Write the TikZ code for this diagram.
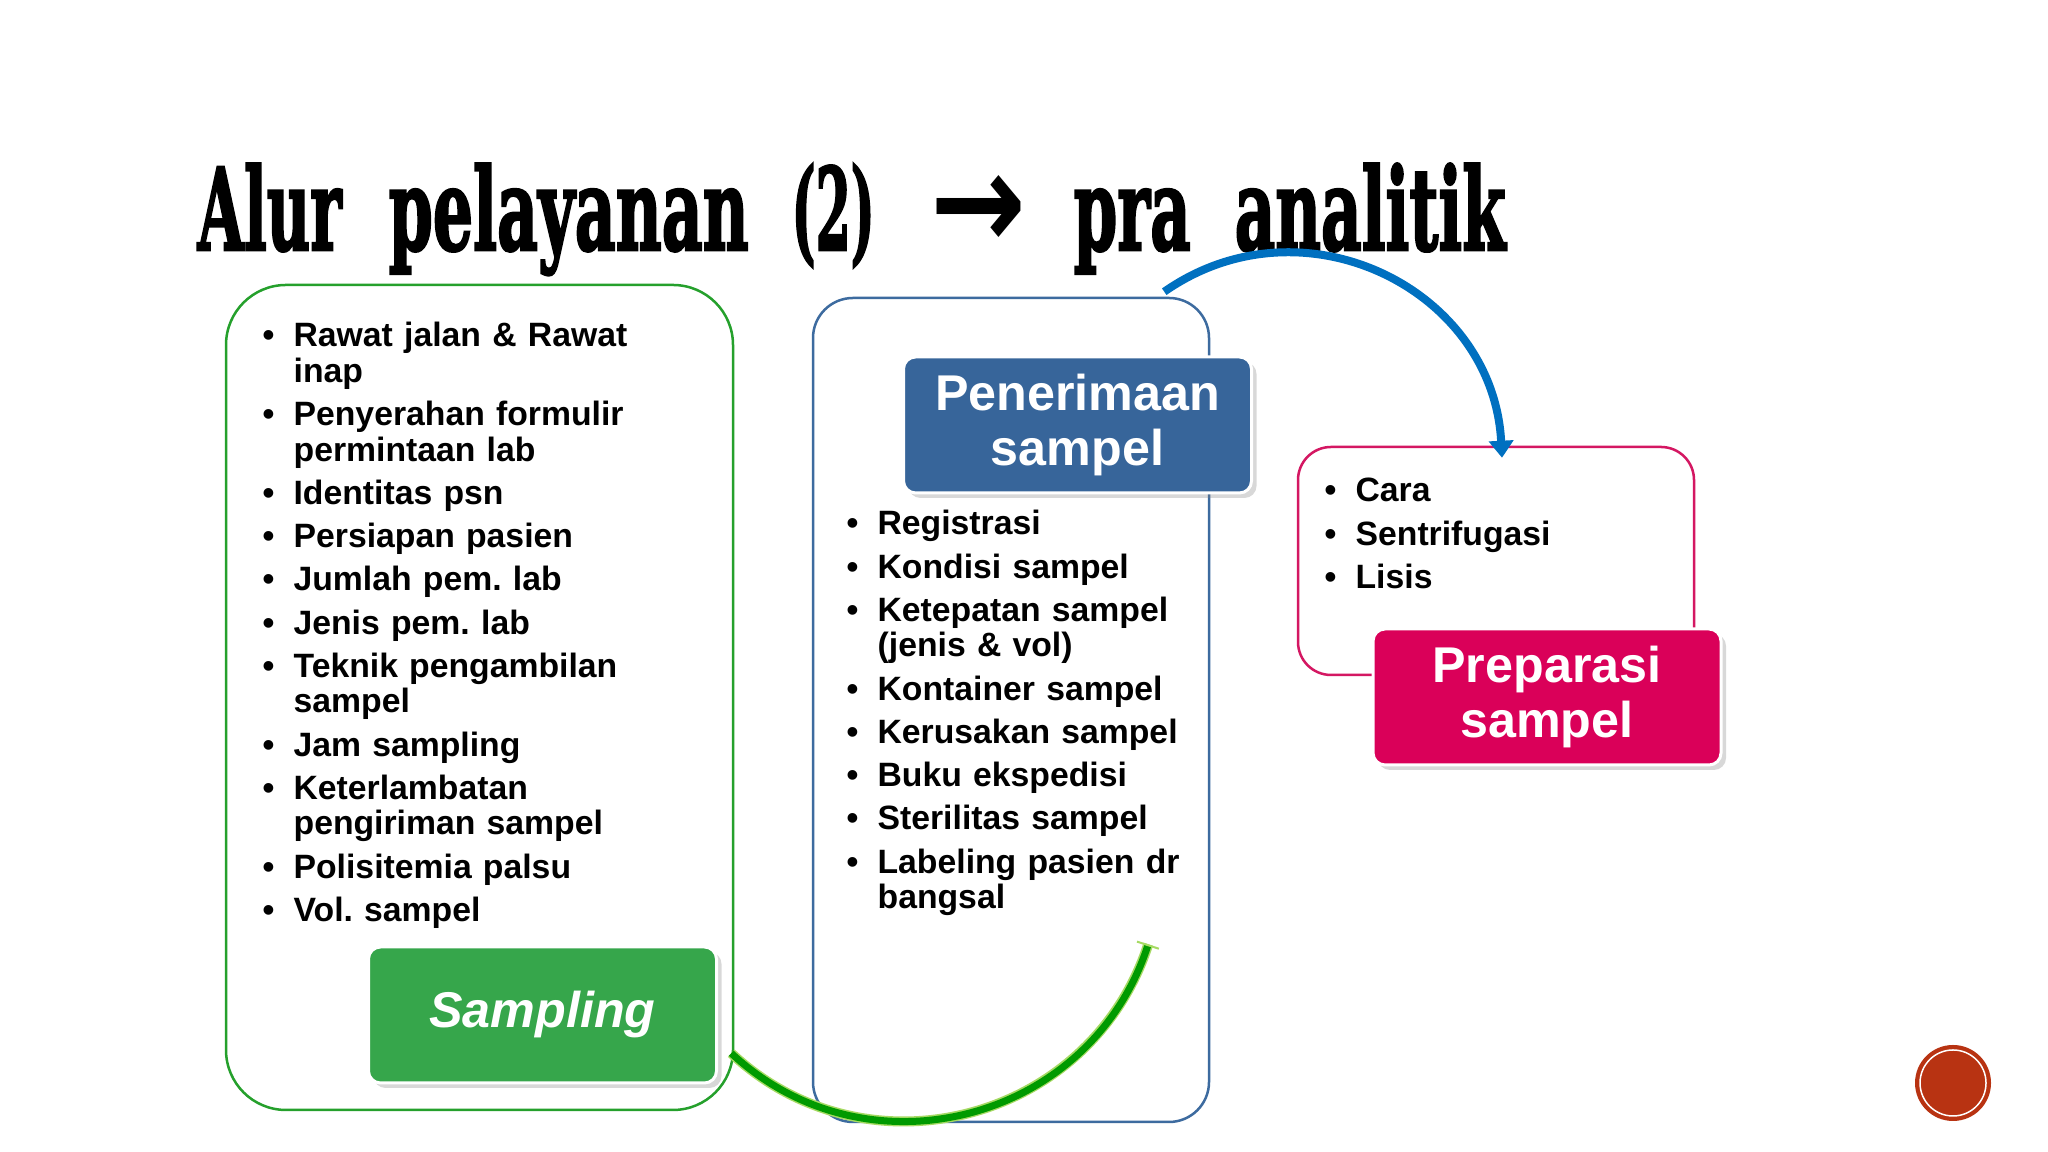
\documentclass[tikz,border=0pt]{standalone}
\usepackage{graphicx}
\usepackage{fontspec}
\setmainfont{Liberation Sans}
\newfontfamily\titlefont{DejaVu Serif}[BoldFeatures={FakeBold=2.5}]
\newfontfamily\arrowfont{DejaVu Sans}
\usepackage{tikz}
\usetikzlibrary{positioning, arrows.meta, shadows, calc}
\frenchspacing

\definecolor{framegreen}{HTML}{25A02C}
\definecolor{sampgreen}{HTML}{36A64B}
\definecolor{frameblue}{HTML}{3D6B9F}
\definecolor{penblue}{HTML}{37659A}
\definecolor{framepink}{HTML}{D41762}
\definecolor{prepink}{HTML}{DA0059}
\definecolor{arrowblue}{HTML}{0070C0}
\definecolor{arcgreen}{HTML}{009A00}
\definecolor{arclight}{HTML}{A6DA63}
\definecolor{dotred}{HTML}{B83312}

\newcommand{\ListFont}{\fontsize{9.6}{10.1}\selectfont\bfseries\frenchspacing}
\newcommand{\itm}[1]{\parskip=2.2pt\relax\noindent\hangindent=8.8pt\hangafter=1\makebox[8.8pt][l]{\textbullet}#1\par}

\begin{document}
\begin{tikzpicture}[x=0.1mm, y=0.1mm,
    frame/.style={draw, line width=0.25mm},
    tagbox/.style={rounded corners=1.2mm, draw=white, line width=0.3mm,
        minimum width=34.8mm, minimum height=13.6mm, align=center, text=white,
        font=\fontsize{14.3}{15.4}\selectfont\bfseries,
        drop shadow={shadow xshift=0.5mm, shadow yshift=-0.5mm, opacity=0.3}},
    bulletlist/.style={anchor=base west, inner sep=0pt, text width=45mm, font=\ListFont},
    flowblue/.style={draw=arrowblue, line width=0.8mm, -{Triangle[width=2.4mm, length=1.7mm]}},
    ]
        % page
        \fill[white] (0,0) rectangle (2048,1152);
        \useasboundingbox (0,0) rectangle (2048,1152);
        % title
        \node[anchor=base west, inner sep=0pt] (title) at (197,902)
            {\titlefont\bfseries\fontsize{32.4}{36}\selectfont
             \resizebox{14.4mm}{\height}{Alur}\hspace{4.7mm}%
             \resizebox{36mm}{\height}{pelayanan}\hspace{4.3mm}%
             \resizebox{8.3mm}{\height}{(2)}\hspace{5.6mm}%
             \resizebox{9.6mm}{7.4mm}{\arrowfont\bfseries →}\hspace{4.7mm}%
             \resizebox{11.7mm}{\height}{pra}\hspace{4.4mm}%
             \resizebox{27.1mm}{\height}{analitik}};
        % frames
        \node[frame, draw=framegreen, rounded corners=6mm, minimum width=50.7mm,
              minimum height=82.5mm] (leftbox) at (479.5,454.5) {};
        \node[frame, draw=frameblue, rounded corners=4mm, minimum width=39.6mm,
              minimum height=82.4mm] (midbox) at (1011,442) {};
        \node[frame, draw=framepink, rounded corners=3.3mm, minimum width=39.6mm,
              minimum height=22.8mm] (pinkbox) at (1496,591) {};
        % lists
        \node[bulletlist] (samplist) at (262,805) {%
            \itm{Rawat jalan \& Rawat\newline inap}
            \itm{Penyerahan formulir\newline permintaan lab}
            \itm{Identitas psn}
            \itm{Persiapan pasien}
            \itm{Jumlah pem. lab}
            \itm{Jenis pem. lab}
            \itm{Teknik pengambilan\newline sampel}
            \itm{Jam sampling}
            \itm{Keterlambatan\newline pengiriman sampel}
            \itm{Polisitemia palsu}
            \itm{Vol. sampel}};
        \node[bulletlist] (penlist) at (846,617) {%
            \itm{Registrasi}
            \itm{Kondisi sampel}
            \itm{Ketepatan sampel\newline (jenis \& vol)}
            \itm{Kontainer sampel}
            \itm{Kerusakan sampel}
            \itm{Buku ekspedisi}
            \itm{Sterilitas sampel}
            \itm{Labeling pasien dr\newline bangsal}};
        \node[bulletlist] (preplist) at (1324,650) {%
            \itm{Cara}
            \itm{Sentrifugasi}
            \itm{Lisis}};
        % stage boxes
        \node[tagbox, fill=sampgreen, font=\fontsize{14.3}{15.4}\selectfont\bfseries\itshape]
            (sampling) at (542.5,137) {Sampling};
        \node[tagbox, fill=penblue] (penerimaan) at (1077.5,727) {Penerimaan\\sampel};
        \node[tagbox, fill=prepink] (preparasi) at (1547,455) {Preparasi\\sampel};
        % flow arcs
        \draw[arclight, line width=1mm]
            ($(leftbox.south east)+(-3,58)$) to[out=-43, in=252, looseness=1.107]
            ($(midbox.south east)+(-62,179)$);
        \draw[arcgreen, line width=0.7mm, -{Bar[width=2.3mm, line width=0.2mm, color=arclight]}]
            ($(leftbox.south east)+(-3,58)$) to[out=-43, in=252, looseness=1.107]
            ($(midbox.south east)+(-62,179)$);
        \draw[flowblue] ($(midbox.north east)+(-46,5)$) to[out=35, in=93, looseness=1.15]
            ($(pinkbox.north)+(6,-12)$);
        % slide mark
        \fill[dotred] (1953,69) circle (38);
        \draw[white, line width=0.15mm] (1953,69) circle (33);
    \end{tikzpicture}
\end{document}
